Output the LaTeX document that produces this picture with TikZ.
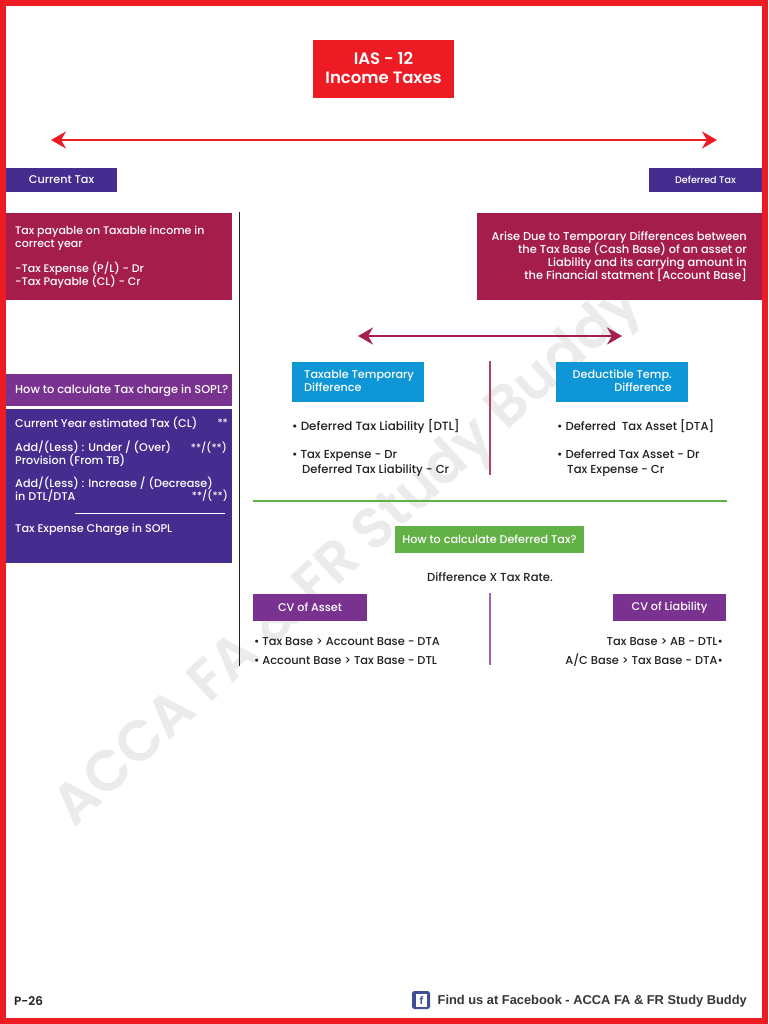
\documentclass[tikz,border=0pt]{standalone}
\usepackage{fontspec}
\setmainfont[BoldFont={Poppins SemiBold}]{Poppins Medium}
\newfontfamily\helv{Liberation Sans}
\usetikzlibrary{arrows.meta}
\lineskiplimit=-50pt
\definecolor{redb}{HTML}{ED1C24}
\definecolor{indigo}{HTML}{452C8F}
\definecolor{wine}{HTML}{A51E4B}
\definecolor{violet}{HTML}{7A3291}
\definecolor{skyb}{HTML}{0F96D6}
\definecolor{greenb}{HTML}{62B146}
\definecolor{ink}{HTML}{231F20}
\definecolor{fbblue}{HTML}{3F4E96}
\tikzset{
  x=1pt,y=-1pt,
  tx/.style={font=\fontsize{11.6}{13}\selectfont,inner sep=0pt,text=ink},
  txs/.style={tx,font=\fontsize{11.4}{13}\selectfont},
  wt/.style={font=\fontsize{11.2}{13}\selectfont,inner sep=0pt,text=white},
  stars/.style={wt,font=\fontsize{10.2}{13}\selectfont},
  box/.style={wt,outer sep=0pt,anchor=north west,align=center},
  bigarrow/.style={{Stealth[length=15pt,width=17pt,inset=5pt]}-{Stealth[length=15pt,width=17pt,inset=5pt]},line width=2.6pt},
  vrule/.style={line width=1.1pt},
  crule/.style={line width=1.5pt},
}
\newcommand{\bx}[7]{\node[box,fill=#1,minimum width=#4pt,minimum height=#5pt] (#6) at (#2,#3) {#7};}
\begin{document}
\begin{tikzpicture}
\useasboundingbox (0,0) rectangle (768,1024);
\fill[white] (0,0) rectangle (768,1024);
% watermark
\node[rotate=42.5,font=\fontsize{57}{57}\selectfont\bfseries,text=black!8,inner sep=0pt] (wm) at (350,557) {ACCA FA \& FR Study Buddy};
% frame
\draw[redb,line width=6pt] (3,3) rectangle (765,1021);
% title
\node[box,fill=redb,minimum width=141pt,minimum height=58pt] (title) at (313,40) {};
\node[wt,align=center,font=\fontsize{16.5}{19}\selectfont\bfseries] (titlet) at (383.5,67.5) {IAS - 12\\Income Taxes};
% top arrow
\coordinate (al) at (51,140); \coordinate (ar) at (717,140);
\draw[bigarrow,redb] (al) -- (ar);
% heads
\bx{indigo}{6}{168}{111}{24}{cur}{Current Tax}
\node[box,fill=indigo,minimum width=113pt,minimum height=24pt,font=\fontsize{9.6}{12}\selectfont] (def) at (649,168) {Deferred Tax};
% vertical rule
\coordinate (v1) at (239.5,212); \coordinate (v2) at (239.5,666);
\draw[vrule,ink] (v1) -- (v2);
% left wine box
\bx{wine}{6}{213}{226}{87}{lw}{}
\node[wt,font=\fontsize{11}{13}\selectfont,anchor=north west,align=left] (lwt) at (15,225.5) {Tax payable on Taxable income in\\correct year\\[12pt]-Tax Expense (P/L) - Dr\\-Tax Payable (CL) - Cr};
% right wine box
\bx{wine}{477}{213}{285}{87}{rw}{}
\node[wt,font=\fontsize{11.4}{13}\selectfont,anchor=north east,align=right] (rwt) at (747,231.5) {Arise Due to Temporary Differences between\\the Tax Base (Cash Base) of an asset or\\Liability and its carrying amount in\\the Financial statment [Account Base]};
% mid arrow
\coordinate (bl) at (358,336); \coordinate (br) at (622,336);
\draw[bigarrow,wine] (bl) -- (br);
% left violet
\bx{violet}{6}{374}{226}{32}{hv}{}
\node[wt,font=\fontsize{11.4}{13}\selectfont,anchor=west] (hvt) at (15,390.5) {How to calculate Tax charge in SOPL?};
\bx{indigo}{6}{409}{226}{154}{ib}{}
\node[wt,anchor=west] (i1) at (15,423.5) {Current Year estimated Tax (CL)};
\node[stars,anchor=east] (i1s) at (228,422.5) {**};
\node[wt,anchor=north west,align=left] (i2) at (15,441) {Add/(Less) : Under / (Over)\\Provision (From TB)};
\node[stars,anchor=east] (i2s) at (227,447.5) {**/(**)};
\node[wt,anchor=north west,align=left] (i3) at (15,477) {Add/(Less) : Increase / (Decrease)\\in DTL/DTA};
\node[stars,anchor=east] (i3s) at (228,496) {**/(**)};
\coordinate (u1) at (75,513.5); \coordinate (u2) at (225,513.5);
\draw[white,line width=1pt] (u1) -- (u2);
\node[wt,anchor=west] (i4) at (15,529.5) {Tax Expense Charge in SOPL};
% blue boxes
\bx{skyb}{292}{362}{132}{40}{tt}{}
\node[wt,align=left,anchor=west] (ttt) at (304,381) {Taxable Temporary\\Difference};
\bx{skyb}{556}{362}{132}{40}{dt}{}
\node[wt,align=right,anchor=east] (dtt) at (672,381) {Deductible Temp.\\Difference};
\coordinate (m1) at (490,361); \coordinate (m2) at (490,475);
\draw[crule,wine!85] (m1) -- (m2);
\node[tx,font=\fontsize{11.9}{13}\selectfont,anchor=west] (a1) at (292,426.5) {• Deferred Tax Liability [DTL]};
\node[tx,anchor=north west,align=left,font=\fontsize{11.6}{15}\selectfont] (a2) at (292,450) {• Tax Expense - Dr\\\hspace*{10pt}Deferred Tax Liability - Cr};
\node[tx,anchor=west] (b1) at (557,426.5) {• Deferred\ \ Tax Asset [DTA]};
\node[tx,anchor=north west,align=left,font=\fontsize{11.6}{15}\selectfont] (b2) at (557,449.5) {• Deferred Tax Asset - Dr\\\hspace*{10pt}Tax Expense - Cr};
% green rule
\coordinate (g1) at (253,501); \coordinate (g2) at (727,501);
\draw[greenb,line width=1.2pt] (g1) -- (g2);
\bx{greenb}{395}{526}{189}{27}{hd}{How to calculate Deferred Tax?}
\node[tx] (dx) at (490,577) {Difference X Tax Rate.};
\bx{violet}{253}{594}{114}{27}{cva}{CV of Asset}
\bx{violet}{613}{594}{113}{27}{cvl}{CV of Liability}
\coordinate (n1) at (490,593); \coordinate (n2) at (490,665);
\draw[crule,violet!75] (n1) -- (n2);
\node[txs,anchor=west] (c1) at (254,641.5) {• Tax Base > Account Base - DTA};
\node[txs,anchor=west] (c2) at (254,660.5) {• Account Base > Tax Base - DTL};
\node[txs,anchor=east] (d1) at (723,641.5) {Tax Base > AB - DTL•};
\node[txs,anchor=east] (d2) at (723,660.5) {A/C Base > Tax Base - DTA•};
% footer
\node[tx,anchor=west,font=\fontsize{12}{13}\selectfont\bfseries] (pg) at (14,1001.5) {P-26};
\node[box,fill=fbblue,rounded corners=2.5pt,minimum width=18pt,minimum height=18pt] (fb) at (412,991) {};
\node[box,fill=white,minimum width=11pt,minimum height=13pt] (fbi) at (416,994) {};
\node[font=\helv\bfseries\fontsize{11}{11}\selectfont,text=fbblue,inner sep=0pt] (fbf) at (421.5,1000.5) {f};
\node[anchor=east,inner sep=0pt,font=\helv\bfseries\fontsize{12.85}{14}\selectfont,text=ink!90] (find) at (747,1001) {Find us at Facebook - ACCA FA \& FR Study Buddy};
\end{tikzpicture}
\end{document}
